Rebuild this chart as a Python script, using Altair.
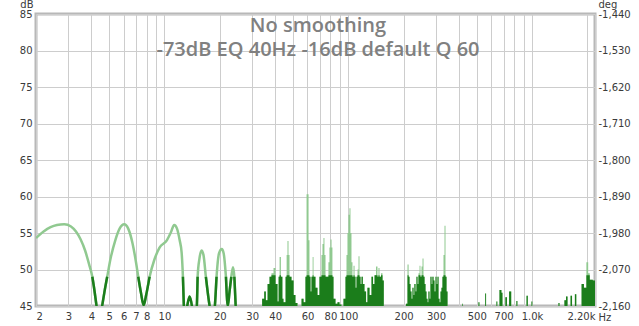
import altair as alt
import pandas as pd

# ---------------- data ----------------
# smooth low-frequency part of the response (Hz, dB)
low_freq = [2.0, 2.2, 2.4, 2.6, 2.85, 3.1, 3.3, 3.5, 3.7, 3.9, 4.05, 4.15, 4.27, 4.42,
            4.58, 4.72, 4.88, 5.1, 5.4, 5.7, 6.04, 6.35, 6.7, 7.0, 7.2, 7.45, 7.7, 7.95,
            8.3, 8.8, 9.4, 10.3, 10.8, 11.3, 11.7, 12.1, 12.4, 12.6, 12.75, 12.95, 13.3,
            13.7, 14.1, 14.5, 15.0, 15.15, 15.5, 15.9, 16.3, 16.8, 17.6, 18.2, 18.8, 19.2,
            19.8, 20.5, 21.0, 21.6, 22.1, 22.6, 23.1, 23.6, 24.0, 24.4, 25.0, 33.0]
low_db = [54.3, 55.2, 55.8, 56.1, 56.2, 55.9, 55.2, 54.1, 52.6, 50.6, 49.0, 47.3, 45.0, 42.5,
          45.0, 47.0, 49.0, 51.6, 54.0, 55.6, 56.2, 55.6, 53.6, 51.0, 49.0, 46.8, 45.1, 46.5,
          49.0, 51.3, 53.0, 54.0, 55.0, 56.1, 55.6, 54.0, 52.3, 49.0, 45.0, 43.0, 45.0,
          46.3, 45.0, 42.0, 45.0, 49.0, 51.5, 52.6, 52.0, 49.0, 45.0, 43.0, 45.0, 49.0,
          52.2, 52.8, 52.2, 49.0, 45.0, 47.0, 49.0, 50.3, 49.0, 45.0, 40.0, 40.0]

# noisy upper part of the response, one level per step (Hz, dB)
hi_freq = [34.0, 34.9, 35.6, 36.4, 37.3, 38.2, 39.2, 40.2, 41.2, 41.8, 42.3, 43.0, 43.8, 44.4,
           45.6, 46.2, 46.7, 47.3, 47.9, 49.1, 50.4, 51.6, 52.9, 55.7, 57.1, 58.5, 59.3,
           60.8, 61.5, 62.3, 63.1, 64.0, 64.7, 66.3, 68.0, 69.7, 71.5, 72.4, 73.3, 74.2,
           75.2, 77.1, 78.0, 79.0, 80.0, 81.1, 82.0, 83.1, 85.2, 87.4, 89.6, 91.8, 94.2,
           96.6, 97.8, 99.0, 100.2, 101.5, 102.8, 104.1, 105.4, 106.8, 108.2, 109.5, 110.9,
           112.3, 113.7, 115.1, 116.6, 118.1, 120.0, 122.5, 125.0, 127.2, 130.5, 133.8,
           136.4, 139.0, 141.6, 144.2, 146.0, 147.9, 150.7, 153.6, 156.0, 202.3, 206.0,
           210.0, 213.0, 215.4, 218.0, 220.8, 223.5, 226.5, 229.0, 232.2, 235.0, 238.1,
           241.0, 244.2, 247.0, 250.4, 253.5, 256.7, 260.0, 263.2, 266.5, 269.9, 273.0,
           276.7, 280.0, 283.8, 287.0, 291.0, 294.5, 298.4, 302.0, 305.9, 309.8, 313.7,
           317.6, 321.5, 325.5, 329.7, 333.9, 338.1, 342.4, 346.7, 418.0, 421.0, 511.0,
           517.0, 556.0, 562.0, 640.0, 647.0, 665.0, 681.0, 690.0, 716.0, 730.0, 750.0,
           770.0, 822.0, 832.0, 933.0, 948.0, 993.0, 1003.0, 1392.0, 1410.0, 1500.0,
           1530.0, 1559.0, 1620.0, 1650.0, 1710.0, 1740.0, 1860.0, 1915.0, 1975.0, 2020.0,
           2060.0, 2140.0, 2200.0]
hi_db = [46.0, 47.0, 45.8, 48.0, 49.0, 49.5, 50.2, 48.0, 45.6, 49.0, 51.7, 49.0, 46.0, 45.5,
         49.0, 52.0, 53.9, 52.0, 49.0, 48.5, 46.5, 45.4, 45.0, 46.0, 45.5, 49.0, 60.3,
         54.0, 49.0, 47.0, 49.0, 51.7, 49.0, 47.5, 46.5, 49.0, 52.0, 53.5, 54.3, 52.0,
         49.0, 49.0, 51.0, 53.0, 54.1, 53.0, 49.0, 46.0, 45.3, 45.5, 45.2, 45.0, 46.0,
         49.0, 52.0, 55.0, 57.5, 58.4, 55.0, 51.0, 49.0, 50.5, 49.0, 47.5, 49.0,
         50.0, 51.8, 49.0, 48.0, 49.0, 48.0, 47.0, 45.5, 47.5, 46.5, 49.0,
         48.0, 49.2, 50.4, 49.0, 50.2, 49.0, 49.5, 48.5, 45.0, 45.0, 45.3,
         50.7, 49.0, 48.0, 47.0, 46.0, 47.5, 46.5, 48.0, 47.0, 49.0, 48.0,
         49.5, 50.5, 49.0, 50.4, 51.5, 49.0, 48.0, 47.0, 46.0, 45.5, 47.0,
         46.0, 49.0, 48.0, 49.0, 48.5, 47.0, 49.0, 48.0, 49.0, 46.0, 45.5,
         47.0, 47.5, 49.0, 52.0, 56.0, 49.0, 47.0, 45.0, 45.3, 45.0, 45.5,
         45.0, 46.7, 45.0, 45.6, 45.0, 47.2, 46.8, 45.0, 46.2, 45.0, 47.0,
         45.0, 45.7, 45.0, 46.4, 45.0, 45.6, 45.0, 45.4, 45.0, 45.8,
         46.3, 45.0, 46.4, 45.0, 46.6, 45.0, 48.0, 47.5, 51.0, 49.5,
         48.6, 48.5, 48.5]

dark_limit = 49.2          # part of the trace drawn in dark green

title_lines = ["No smoothing", "-73dB EQ 40Hz -16dB default Q 60"]

x_grid_ticks = [2, 3, 4, 5, 6, 7, 8, 9, 10, 20, 30, 40, 50, 60, 70, 80, 90,
                100, 200, 300, 400, 500, 600, 700, 800, 900, 1000, 2000, 2200]
x_label_ticks = [2, 3, 4, 5, 6, 7, 8, 10, 20, 30, 40, 60, 80, 100, 200, 300,
                 500, 700, 1000, 2200]
x_label_text = ["2", "3", "4", "5", "6", "7", "8", "10", "20", "30", "40", "60",
                "80", "100", "200", "300", "500", "700", "1.0k", "2.20k"]
db_ticks = [45, 50, 55, 60, 65, 70, 75, 80, 85]
deg_ticks = [-2160, -2070, -1980, -1890, -1800, -1710, -1620, -1530, -1440]

# ---------------- chart ----------------
LIGHT = "#90c990"
DARK = "#1b7d1b"
FONT = "DejaVu Sans"
LABEL_COLOR = "#3a3a3a"

df_low = pd.DataFrame({"f": low_freq, "db": low_db})
df_hi = pd.DataFrame({"f": hi_freq, "db": hi_db})
df_title = pd.DataFrame({"t": ["\n".join(title_lines)]})
df_deg = pd.DataFrame({"deg": [deg_ticks[0], deg_ticks[-1]]})

label_expr = "''"
for v, t in zip(reversed(x_label_ticks), reversed(x_label_text)):
    label_expr = f"datum.value == {v} ? '{t}' : ({label_expr})"

x_axis = alt.Axis(values=x_grid_ticks, labelExpr=label_expr, labelOverlap=False,
                  labelFlush=True, ticks=False, domain=False, labelPadding=5,
                  gridColor="#cdcdcd", gridWidth=1, labelFont=FONT, labelFontSize=10,
                  labelColor=LABEL_COLOR, title="Hz", titleFont=FONT,
                  titleFontSize=10, titleFontWeight="normal", titleColor=LABEL_COLOR,
                  titleAnchor="start", titleAlign="left", titleX=562, titleY=14,
                  titleBaseline="alphabetic")
y_axis = alt.Axis(values=db_ticks, ticks=False, domain=False, labelPadding=4,
                  gridColor="#cdcdcd", gridWidth=1, labelFont=FONT, labelFontSize=10,
                  labelColor=LABEL_COLOR, title="dB", titleAngle=0, titleFont=FONT,
                  titleFontSize=10, titleFontWeight="normal", titleColor=LABEL_COLOR,
                  titleAlign="right", titleX=-3, titleY=-7, titleBaseline="alphabetic")

x_scale = alt.Scale(type="log", domain=[2, 2200], nice=False)
y_scale = alt.Scale(domain=[45, 85], nice=False, zero=False)

X = alt.X("f:Q", scale=x_scale, axis=x_axis)

light_low = alt.Chart(df_low).mark_line(
    color=LIGHT, strokeWidth=2.5, clip=True, interpolate="monotone"
).encode(x=X, y=alt.Y("db:Q", scale=y_scale, axis=y_axis))

dark_low = alt.Chart(df_low).transform_calculate(
    dk=f"datum.db <= {dark_limit} ? datum.db : null"
).mark_line(
    color=DARK, strokeWidth=2.5, clip=True, interpolate="monotone"
).encode(x=X, y=alt.Y("dk:Q", scale=y_scale, axis=y_axis))

light_hi = alt.Chart(df_hi).mark_area(
    color=LIGHT, clip=True, interpolate="step-after", opacity=1
).encode(x=X, y=alt.Y("db:Q", scale=y_scale, axis=y_axis), y2=alt.datum(45))

dark_hi = alt.Chart(df_hi).transform_calculate(
    dk=f"min(datum.db, {dark_limit})"
).mark_area(
    color=DARK, clip=True, interpolate="step-after", opacity=1
).encode(x=X, y=alt.Y("dk:Q", scale=y_scale, axis=y_axis), y2=alt.datum(45))

title_text = alt.Chart(df_title).mark_text(
    font="Open Sans", fontSize=20, fontWeight=600, color="#808080",
    align="center", baseline="alphabetic", lineBreak="\n", lineHeight=24
).encode(text="t:N", x=alt.value(282), y=alt.value(18))

main = alt.layer(light_low, dark_low, light_hi, dark_hi, title_text)

deg_axis = alt.Axis(values=deg_ticks, orient="right", ticks=False, domain=False,
                    grid=False, labelPadding=3, labelFont=FONT, labelFontSize=10,
                    labelColor=LABEL_COLOR,
                    labelExpr="replace(format(datum.value, ','), '\u2212', '-')",
                    title="deg", titleAngle=0, titleFont=FONT, titleFontSize=10,
                    titleFontWeight="normal", titleColor=LABEL_COLOR,
                    titleAlign="left", titleX=3, titleY=-7, titleBaseline="alphabetic")
deg_layer = alt.Chart(df_deg).mark_point(opacity=0).encode(
    y=alt.Y("deg:Q", scale=alt.Scale(domain=[-2160, -1440], nice=False, zero=False),
            axis=deg_axis)
)

chart = alt.layer(main, deg_layer).resolve_scale(y="independent").properties(
    width=559, height=292,
    padding={"left": 36, "top": 14, "right": 44, "bottom": 20},
    autosize=alt.AutoSizeParams(type="none"),
    background="white",
).configure_view(stroke="#b8b8b8", strokeWidth=3, fill="white")

chart.save("out.html", embed_options={"renderer": "svg", "actions": False})
